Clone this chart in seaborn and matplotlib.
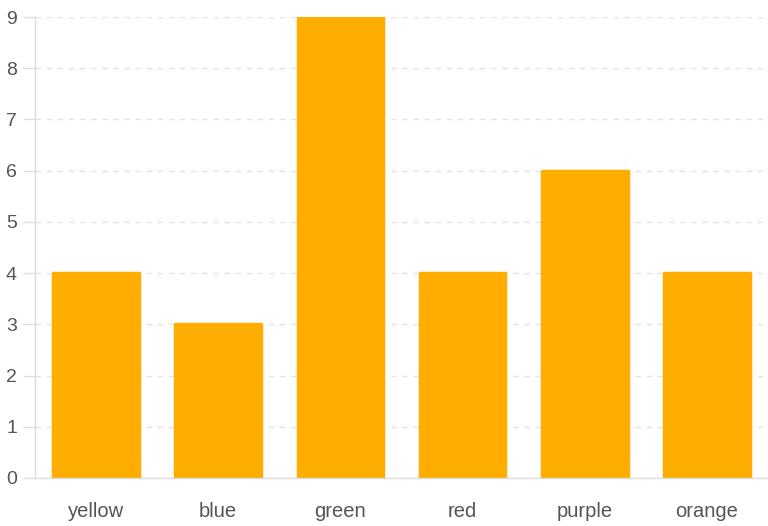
import matplotlib

matplotlib.use("Agg")
import matplotlib.pyplot as plt
import pandas as pd
import seaborn as sns

categories = ["yellow", "blue", "green", "red", "purple", "orange"]
values = [4, 3, 9, 4, 6, 4]

BAR_COLOR = "#FFAD00"
GRID_COLOR = "#e3e3e3"
AXIS_COLOR = "#dcdcdc"
TEXT_COLOR = "#555555"

df = pd.DataFrame({"color": categories, "votes": values})

sns.set_style("white")
plt.rcParams["font.family"] = ["Liberation Sans", "DejaVu Sans"]

fig = plt.figure(figsize=(7.68, 5.26), dpi=100)
ax = fig.add_axes([35 / 768, 1 - 478 / 526, 1 - 35 / 768, (478 - 17) / 526])

sns.barplot(
    data=df,
    x="color",
    y="votes",
    color=BAR_COLOR,
    width=0.7,
    saturation=1,
    ax=ax,
    zorder=3,
)
# slightly rounded corners
for bar in ax.patches:
    bar.set_edgecolor(BAR_COLOR)
    bar.set_linewidth(2.5)
    bar.set_joinstyle("round")

ax.set_ylim(0, 9)
ax.set_yticks(range(0, 10))
ax.set_xlim(-0.5, len(categories) - 0.5)
ax.set_xlabel("")
ax.set_ylabel("")

ax.yaxis.grid(True, color=GRID_COLOR, linestyle=(0, (4, 4)), linewidth=1, zorder=0)
ax.xaxis.grid(False)
ax.set_axisbelow(True)

for side in ["top", "right"]:
    ax.spines[side].set_visible(False)
for side in ["left", "bottom"]:
    ax.spines[side].set_color(AXIS_COLOR)
    ax.spines[side].set_linewidth(1)
    ax.spines[side].set_zorder(4)

ax.tick_params(axis="y", length=9, width=1, color=AXIS_COLOR, pad=4,
               labelsize=14, labelcolor=TEXT_COLOR, left=True)
ax.tick_params(axis="x", length=0, pad=17, labelsize=14.5, labelcolor=TEXT_COLOR)

fig.savefig("out.png", dpi=100)
